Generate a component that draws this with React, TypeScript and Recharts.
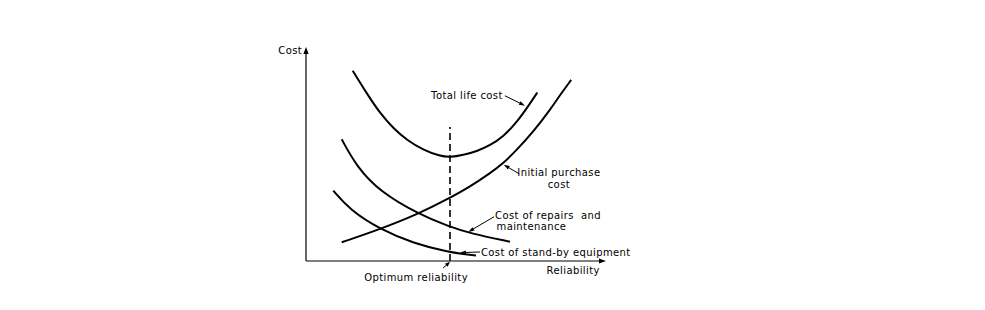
import React from 'react';
import { LineChart, Line, XAxis, YAxis, ReferenceLine, ReferenceDot } from 'recharts';

// Reliability (x, 0-100) vs cost (y, 0-100)
const totalLifeCost = [
  { x: 15.57, y: 88.93 }, { x: 20.23, y: 78.36 }, { x: 24.67, y: 69.02 }, { x: 29.1, y: 62.01 },
  { x: 33.57, y: 56.54 }, { x: 39.1, y: 51.87 }, { x: 44.67, y: 49.0 }, { x: 48.0, y: 48.4 },
  { x: 52.43, y: 49.5 }, { x: 56.9, y: 51.26 }, { x: 61.33, y: 53.97 }, { x: 65.77, y: 58.18 },
  { x: 70.23, y: 64.72 }, { x: 74.67, y: 73.6 }, { x: 77.1, y: 78.74 },
];
const initialPurchaseCost = [
  { x: 11.9, y: 8.74 }, { x: 24.67, y: 14.81 }, { x: 37.43, y: 21.96 }, { x: 47.77, y: 29.3 },
  { x: 54.67, y: 34.72 }, { x: 61.33, y: 40.98 }, { x: 65.77, y: 45.65 }, { x: 70.23, y: 51.87 },
  { x: 75.77, y: 60.42 }, { x: 81.33, y: 70.56 }, { x: 84.67, y: 77.57 }, { x: 88.4, y: 84.6 },
];
const repairsCost = [
  { x: 11.9, y: 56.87 }, { x: 16.9, y: 44.07 }, { x: 24.67, y: 32.38 }, { x: 37.43, y: 21.96 },
  { x: 47.77, y: 16.03 }, { x: 54.67, y: 12.94 }, { x: 68.0, y: 9.02 },
];
const standbyCost = [
  { x: 9.1, y: 32.85 }, { x: 14.67, y: 23.83 }, { x: 24.67, y: 14.81 }, { x: 35.77, y: 8.27 },
  { x: 47.77, y: 4.07 }, { x: 52.43, y: 3.27 }, { x: 56.67, y: 2.57 },
];
const optimumReliability = 48;
const optimumLineTop = 62.6;

const axisTitles = { x: 'Reliability', y: 'Cost' };
const curveLabels = {
  total: ['Total life cost'],
  initial: ['Initial purchase', 'cost'],
  repairs: ['Cost of repairs  and', 'maintenance'],
  standby: ['Cost of stand-by equipment'],
  optimum: ['Optimum reliability'],
};

const FONT = "'DejaVu Sans', sans-serif";
const FS = 10;
const LS = 0.4;

const ArrowLine = (props: any) => {
  const { x1, y1, x2, y2 } = props;
  const sw = props.lineWidth ?? 1;
  const hl = props.headLength ?? 6;
  const hw = props.headWidth ?? 2;
  const dx = x2 - x1, dy = y2 - y1;
  const len = Math.hypot(dx, dy) || 1;
  const ux = dx / len, uy = dy / len;
  const bx = x2 - ux * hl, by = y2 - uy * hl;
  const pts = `${x2},${y2} ${bx - uy * hw},${by + ux * hw} ${bx + uy * hw},${by - ux * hw}`;
  return (
    <g>
      <line x1={x1} y1={y1} x2={bx + ux * 1} y2={by + uy * 1} stroke="#000" strokeWidth={sw} />
      <polygon points={pts} fill="#000" />
    </g>
  );
};

const textShape = (lines: string[], anchor: 'start' | 'middle' | 'end', lineGap = 11.5) => (p: any) => (
  <text
    x={p.cx}
    y={p.cy}
    textAnchor={anchor}
    fontFamily={FONT}
    fontSize={FS}
    letterSpacing={LS}
    fill="#000"
  >
    {lines.map((l, i) => (
      <tspan key={i} x={p.cx} dy={i === 0 ? 3.6 : lineGap} style={{ whiteSpace: 'pre' }}>
        {l}
      </tspan>
    ))}
  </text>
);

const curveProps = {
  type: 'basis' as const,
  dataKey: 'y',
  stroke: '#000',
  strokeWidth: 2,
  dot: false,
  activeDot: false,
  isAnimationActive: false,
};

export default function App() {
  return (
    <div style={{ position: 'absolute', left: 0, top: 0, width: 985, height: 310, background: '#fff' }}>
      <LineChart width={985} height={310} margin={{ top: 47, right: 379, bottom: 49, left: 306 }}>
        <XAxis dataKey="x" type="number" domain={[0, 100]} hide allowDataOverflow />
        <YAxis type="number" domain={[0, 100]} hide allowDataOverflow />

        {/* axes with arrowheads */}
        <ReferenceLine
          segment={[{ x: 0, y: 0 }, { x: 0, y: 100 }]}
          ifOverflow="visible"
          shape={(p: any) => <ArrowLine {...p} lineWidth={1.2} headLength={7} headWidth={2.6} />}
        />
        <ReferenceLine
          segment={[{ x: 0, y: 0 }, { x: 100, y: 0 }]}
          ifOverflow="visible"
          shape={(p: any) => <ArrowLine {...p} lineWidth={1.2} headLength={7} headWidth={2.6} />}
        />

        {/* optimum reliability dashed line */}
        <ReferenceLine
          segment={[{ x: optimumReliability, y: 0 }, { x: optimumReliability, y: optimumLineTop }]}
          ifOverflow="visible"
          stroke="#000"
          strokeWidth={1.6}
          strokeDasharray="7 4"
        />

        <Line {...curveProps} data={totalLifeCost} name="Total life cost" />
        <Line {...curveProps} data={initialPurchaseCost} name="Initial purchase cost" />
        <Line {...curveProps} data={repairsCost} name="Cost of repairs and maintenance" />
        <Line {...curveProps} data={standbyCost} name="Cost of stand-by equipment" />

        {/* leader lines */}
        <ReferenceLine segment={[{ x: 66.3, y: 77.2 }, { x: 73.0, y: 72.6 }]} ifOverflow="visible" shape={(p: any) => <ArrowLine {...p} />} />
        <ReferenceLine segment={[{ x: 71.1, y: 40.7 }, { x: 65.9, y: 45.0 }]} ifOverflow="visible" shape={(p: any) => <ArrowLine {...p} />} />
        <ReferenceLine segment={[{ x: 62.7, y: 20.7 }, { x: 54.1, y: 13.6 }]} ifOverflow="visible" shape={(p: any) => <ArrowLine {...p} />} />
        <ReferenceLine segment={[{ x: 58.0, y: 4.2 }, { x: 51.3, y: 3.9 }]} ifOverflow="visible" shape={(p: any) => <ArrowLine {...p} />} />
        <ReferenceLine segment={[{ x: 45.7, y: -3.3 }, { x: optimumReliability, y: -0.4 }]} ifOverflow="visible" shape={(p: any) => <ArrowLine {...p} headLength={5} />} />

        {/* text labels */}
        <ReferenceDot x={-1.3} y={98.6} r={0} ifOverflow="visible" shape={textShape([axisTitles.y], 'end')} />
        <ReferenceDot x={80.2} y={-4.5} r={0} ifOverflow="visible" shape={textShape([axisTitles.x], 'start')} />
        <ReferenceDot x={41.7} y={77.6} r={0} ifOverflow="visible" shape={textShape(curveLabels.total, 'start')} />
        <ReferenceDot x={84.3} y={41.3} r={0} ifOverflow="visible" shape={textShape(curveLabels.initial, 'middle')} />
        <ReferenceDot x={63.0} y={21.5} r={0} ifOverflow="visible" shape={(p: any) => (
          <text x={p.cx} y={p.cy} fontFamily={FONT} fontSize={FS} letterSpacing={LS} fill="#000">
            <tspan x={p.cx} dy={3.6} style={{ whiteSpace: 'pre' }}>{curveLabels.repairs[0]}</tspan>
            <tspan x={p.cx + 1.5} dy={11.7}>{curveLabels.repairs[1]}</tspan>
          </text>
        )} />
        <ReferenceDot x={58.3} y={4.2} r={0} ifOverflow="visible" shape={textShape(curveLabels.standby, 'start')} />
        <ReferenceDot x={19.4} y={-7.6} r={0} ifOverflow="visible" shape={textShape(curveLabels.optimum, 'start')} />
      </LineChart>
    </div>
  );
}
